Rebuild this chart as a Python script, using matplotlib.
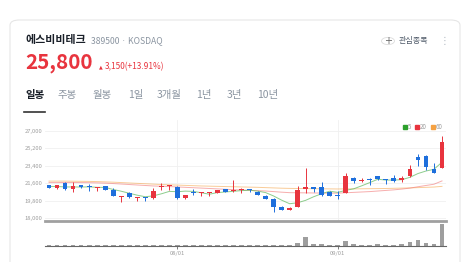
import numpy as np
import matplotlib.pyplot as plt
from matplotlib.patches import FancyBboxPatch, Circle
from matplotlib.lines import Line2D

plt.rcParams['font.family'] = ['Noto Sans CJK KR', 'DejaVu Sans']

# daily candles (KRW)
opens = [21400, 21130, 21640, 20990, 21370, 21260, 21130, 21260, 20890, 20200,
         20610, 20100, 20160, 20030, 21160, 21300, 21160, 20060, 20710, 20580,
         20580, 20610, 20950, 20750, 20920, 20950, 20680, 20300, 19920, 19170,
         18860, 19130, 20950, 21190, 21160, 20710, 20400, 20540, 22160, 21850,
         22050, 22330, 21990, 22090, 21920, 22360, 24320, 24390, 23020, 23120]
closes = [21130, 21400, 20950, 21330, 21160, 21190, 21160, 20890, 20300, 20270,
          20130, 20160, 20100, 20750, 21300, 21370, 20030, 20400, 20580, 20610,
          20610, 20890, 20710, 20920, 20950, 20850, 20400, 19960, 19170, 18820,
          19000, 20890, 21230, 21020, 20370, 20270, 20300, 22290, 21810, 21920,
          21920, 21990, 21920, 21780, 22160, 23080, 23980, 23220, 22650, 25800]
highs = [21450, 21420, 21680, 21740, 21420, 21500, 21200, 21300, 21060, 20300,
         20710, 20180, 20180, 21060, 21570, 21400, 21300, 20420, 20950, 20640,
         20640, 20920, 20990, 21920, 21060, 20990, 20750, 20370, 20030, 19200,
         19170, 21300, 23190, 21230, 21740, 20750, 20780, 22600, 22200, 22090,
         22090, 22360, 22020, 22430, 22360, 23430, 24560, 24460, 23630, 26450]
lows = [21100, 21020, 20920, 20710, 21130, 20820, 20820, 20850, 20230, 19680,
        20030, 19790, 19790, 19960, 20890, 20890, 19920, 19960, 20370, 20270,
        20270, 20580, 20680, 20710, 20610, 20650, 20370, 19920, 18650, 18780,
        18820, 19130, 20540, 20650, 20300, 20230, 19920, 20540, 21570, 21680,
        21400, 21950, 21500, 21740, 21740, 22260, 23360, 22950, 22600, 23120]
# volume (thousand shares)
volumes = [60, 55, 70, 65, 50, 55, 45, 55, 60, 50,
           55, 45, 40, 70, 60, 50, 65, 45, 50, 40,
           45, 55, 50, 75, 50, 45, 55, 60, 80, 55,
           50, 160, 610, 90, 100, 70, 60, 320, 90, 60,
           70, 90, 70, 80, 90, 260, 360, 160, 120, 1450]
# moving averages as drawn
ma5 = [21250, 21250, 21200, 21200, 21190, 21210, 21160, 21150, 20940, 20760,
       20550, 20350, 20190, 20280, 20490, 20740, 20710, 20770, 20740, 20600,
       20450, 20620, 20680, 20750, 20820, 20860, 20770, 20620, 20270, 19840,
       19470, 19570, 19820, 20190, 20500, 20760, 20640, 20850, 21010, 21320,
       21650, 21990, 21910, 21910, 21950, 22190, 22580, 22840, 23020, 23750]
ma20 = [21650, 21650, 21660, 21660, 21650, 21640, 21620, 21590, 21550, 21500,
        21450, 21400, 21350, 21300, 21270, 21240, 21200, 21160, 21120, 21080,
        21040, 21000, 20960, 20920, 20880, 20850, 20820, 20780, 20720, 20660,
        20610, 20600, 20590, 20580, 20570, 20560, 20560, 20600, 20640, 20680,
        20720, 20780, 20840, 20900, 20980, 21080, 21220, 21350, 21480, 21820]
ma60 = [21800, 21800, 21800, 21790, 21780, 21770, 21750, 21720, 21690, 21650,
        21610, 21570, 21530, 21490, 21450, 21420, 21390, 21360, 21330, 21300,
        21280, 21260, 21240, 21220, 21200, 21180, 21160, 21130, 21100, 21070,
        21050, 21040, 21030, 21020, 21010, 21000, 20990, 21000, 21000, 21010,
        21020, 21030, 21040, 21060, 21080, 21100, 21130, 21160, 21190, 21260]
tick_pos = [16, 36]
tick_labels = ['08/01', '09/01']
y_ticks = [18000, 19800, 21600, 23400, 25200, 27000]
tabs = ['일봉', '주봉', '월봉', '1일', '3개월', '1년', '3년', '10년']
tab_x = [25, 58, 93, 128, 157, 196, 227, 257]

RED = '#e8343e'
BLUE = '#1e6fdc'
W, H = 474, 262


def fp(x, y):
    return x / W, 1 - y / H


fig = plt.figure(figsize=(W / 100, H / 100), dpi=100)

# card
fig.patches.append(FancyBboxPatch(fp(10, 300), 450 / W, 280 / H,
                                  boxstyle='round,pad=0,rounding_size=0.02',
                                  transform=fig.transFigure, fc='white',
                                  ec='#e6e6e6', lw=0.8, zorder=-5))

# header
fig.text(*fp(25, 40), '에스비비테크', fontsize=7.9, fontweight='bold',
         color='#191f28', va='center')
fig.text(*fp(91, 41), '389500 · KOSDAQ', fontsize=6.2, color='#8b95a1',
         va='center')
fig.patches.append(Circle(fp(388, 41), 6.5 / W, transform=fig.transFigure,
                          fc='white', ec='#dcdcdc', lw=0.6))
fig.text(*fp(388, 41), '+', fontsize=7, color='#666', ha='center',
         va='center', family='DejaVu Sans')
fig.text(*fp(399, 41), '관심종목', fontsize=5.8, color='#4e5968', va='center')
fig.text(*fp(445, 41), '⋮', fontsize=7, color='#b0b8c1', ha='center',
         va='center', family='DejaVu Sans')
fig.text(*fp(25, 62), '25,800', fontsize=14.8, fontweight='bold', color=RED,
         va='center')
fig.text(*fp(99, 67), '▲', fontsize=3.5, color=RED, va='center',
         family='DejaVu Sans')
fig.text(*fp(105, 67), '3,150(+13.91%)', fontsize=6, color=RED, va='center')
for t, tx in zip(tabs, tab_x):
    bold = t == '일봉'
    fig.text(*fp(tx, 95), t, fontsize=7.5,
             fontweight='bold' if bold else 'normal',
             color='#191f28' if bold else '#8b95a1', va='center')
fig.lines.append(Line2D([24 / W, 45 / W], [1 - 112 / H] * 2,
                        transform=fig.transFigure, color='#333', lw=1.2))

# price panel
x = np.arange(len(closes))
o = np.array(opens)
c = np.array(closes)
up = c >= o
colors = np.where(up, RED, BLUE)

ax = fig.add_axes([45 / W, (H - 220.7) / H, 401 / W, 100.7 / H])
ax.patch.set_visible(False)
ax.plot(x, ma60, color='#f5a142', lw=0.7, alpha=0.55, zorder=1)
ax.plot(x, ma20, color='#f06a6a', lw=0.7, alpha=0.55, zorder=1)
ax.plot(x, ma5, color='#5cb85c', lw=0.7, alpha=0.7, zorder=1)
ax.vlines(x, lows, highs, colors=colors, lw=0.7, zorder=2)
body_h = np.maximum(np.abs(c - o), 70)
ax.bar(x, body_h, bottom=np.minimum(o, c), width=0.6, color=colors,
       zorder=3)
ax.set_xlim(-0.5, len(closes) - 0.5)
ax.set_ylim(17720, 28100)
ax.set_yticks(y_ticks)
ax.set_yticklabels([f'{v:,}' for v in y_ticks])
ax.tick_params(axis='y', length=0, labelsize=4.2, labelcolor='#9e9e9e', pad=2)
ax.set_xticks(tick_pos)
ax.tick_params(axis='x', length=0, labelbottom=False)
ax.grid(color='#f0f0f0', lw=0.6, zorder=0)
ax.set_axisbelow(True)
for s in ['top', 'left', 'right']:
    ax.spines[s].set_visible(False)
ax.spines['bottom'].set_color('#a0a0a0')
ax.spines['bottom'].set_linewidth(2)

handles = [Line2D([], [], marker='s', ls='', color=col, markersize=2.5)
           for col in ['#2ca02c', '#e8343e', '#f5a142']]
ax.legend(handles, ['5', '20', '60'], loc='upper right', ncol=3, fontsize=4.5,
          frameon=False, handletextpad=0.05, columnspacing=0.6,
          borderaxespad=0.1, labelcolor='#9e9e9e', handlelength=0.8)

# volume panel
vax = fig.add_axes([45 / W, 16.3 / H, 401 / W, 23.7 / H])
vax.patch.set_visible(False)
vax.bar(x, volumes, width=0.6, color='#9e9e9e')
vax.set_xlim(-0.5, len(closes) - 0.5)
vax.set_ylim(0, 1583)
vax.set_yticks([])
vax.set_xticks(tick_pos)
vax.set_xticklabels(tick_labels)
vax.tick_params(axis='x', length=2, width=0.6, color='#666', labelsize=4.2,
                labelcolor='#9e9e9e', pad=1.5)
for s in ['top', 'left', 'right']:
    vax.spines[s].set_visible(False)
vax.spines['bottom'].set_color('#666')
vax.spines['bottom'].set_linewidth(0.8)

fig.savefig('out.png', dpi=100)
